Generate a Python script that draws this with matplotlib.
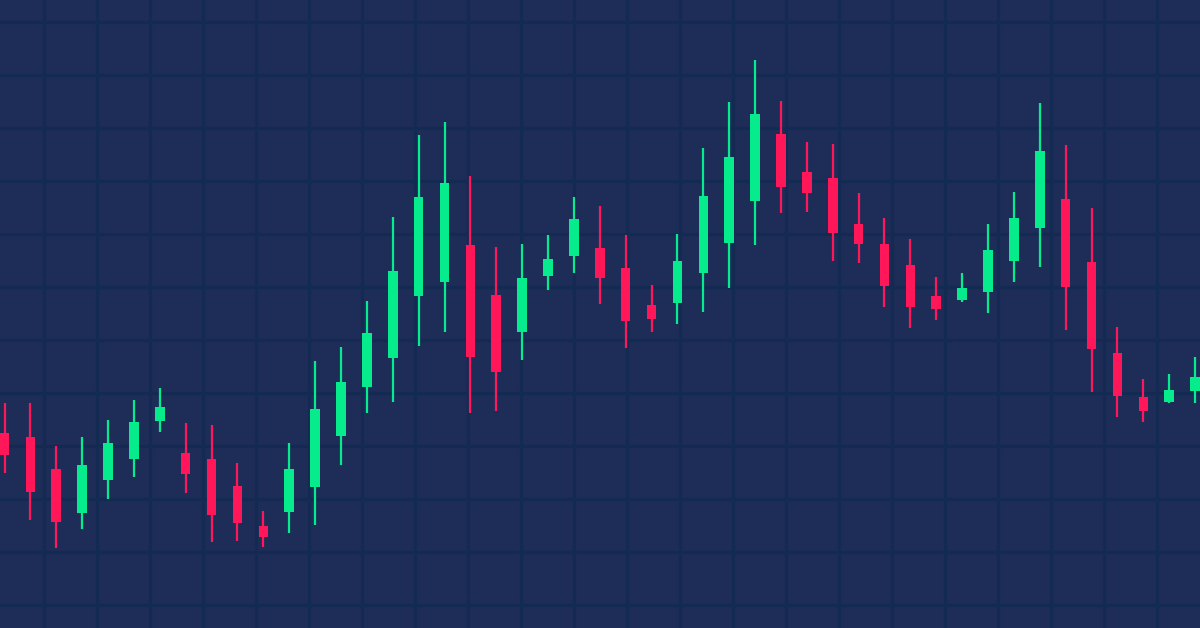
import numpy as np
import matplotlib

matplotlib.use("Agg")
import matplotlib.pyplot as plt

# ======================================================
# Candle data (price units)
# ======================================================
opens = [132.5, 131.7, 125.7, 117.4, 123.6, 127.5, 134.7, 128.7, 127.5, 122.5,
         114.9, 117.5, 122.3, 131.9, 141.1, 146.6, 158.3, 160.9, 167.9, 158.5,
         151.5, 162.1, 165.8, 167.4, 163.6, 156.6, 157.0, 162.6, 168.3, 176.2,
         188.9, 181.7, 180.6, 171.9, 168.1, 164.2, 158.3, 157.5, 159.1, 164.9,
         171.1, 176.6, 164.7, 147.5, 139.2, 138.3, 140.4]
highs = [138.1, 138.1, 130.0, 131.7, 134.9, 138.7, 140.9, 134.3, 134.0, 126.8,
         117.7, 130.6, 146.0, 148.7, 157.4, 173.2, 188.7, 191.1, 180.9, 167.5,
         168.1, 169.8, 177.0, 175.3, 169.8, 160.4, 170.0, 186.2, 194.9, 202.8,
         195.1, 187.4, 187.0, 177.7, 173.0, 169.1, 161.9, 162.6, 171.9, 177.9,
         194.7, 186.8, 174.9, 152.5, 142.6, 143.6, 146.8]
lows = [124.9, 116.0, 110.8, 114.3, 120.0, 124.2, 132.6, 121.1, 111.9, 112.1,
        110.9, 113.6, 115.1, 126.4, 136.2, 138.3, 148.9, 151.5, 136.2, 136.6,
        146.2, 159.4, 162.6, 156.8, 148.5, 151.5, 153.0, 155.3, 159.8, 167.9,
        174.0, 174.2, 164.9, 164.5, 156.2, 152.3, 153.8, 157.2, 155.1, 160.9,
        163.8, 151.9, 140.2, 135.5, 134.5, 138.1, 138.1]
closes = [128.3, 121.3, 115.7, 126.4, 130.6, 134.5, 137.4, 124.7, 117.0, 115.5,
          112.8, 125.7, 137.0, 142.1, 151.3, 163.0, 177.0, 179.6, 146.8, 144.0,
          161.7, 165.3, 172.8, 161.7, 153.6, 154.0, 164.9, 177.2, 184.5, 192.6,
          178.9, 177.7, 170.2, 168.1, 160.2, 156.2, 155.8, 159.8, 167.0, 173.0,
          185.7, 160.0, 148.3, 139.4, 136.6, 140.6, 143.0]

BG = "#1d2d58"
GRID = "#132a52"
UP = "#06eb8c"
DOWN = "#ff1759"


def main():
    o = np.array(opens)
    h = np.array(highs)
    l = np.array(lows)
    c = np.array(closes)
    x = np.arange(len(o))
    colors = [UP if cc >= oo else DOWN for oo, cc in zip(o, c)]

    fig = plt.figure(figsize=(12, 6.28), dpi=100, facecolor=BG)
    ax = fig.add_axes([0, 0, 1, 1])
    ax.set_facecolor(BG)

    # grid behind the candles
    ax.set_xticks(np.arange(1.526, 46.2, 2.048))
    ax.set_yticks(np.arange(100, 211, 10))
    ax.grid(True, color=GRID, linewidth=2.3)
    ax.set_axisbelow(True)
    ax.tick_params(length=0, labelbottom=False, labelleft=False)
    for s in ax.spines.values():
        s.set_visible(False)

    # wicks + bodies
    ax.vlines(x, l, h, colors=colors, linewidth=1.6, zorder=2)
    ax.bar(x, np.abs(c - o), bottom=np.minimum(o, c), width=0.37,
           color=colors, linewidth=0, zorder=3)

    ax.set_xlim(-0.174, 46.19)
    ax.set_ylim(95.66, 214.15)

    fig.savefig("out.png", dpi=100, facecolor=BG)
    plt.close(fig)


if __name__ == "__main__":
    main()
